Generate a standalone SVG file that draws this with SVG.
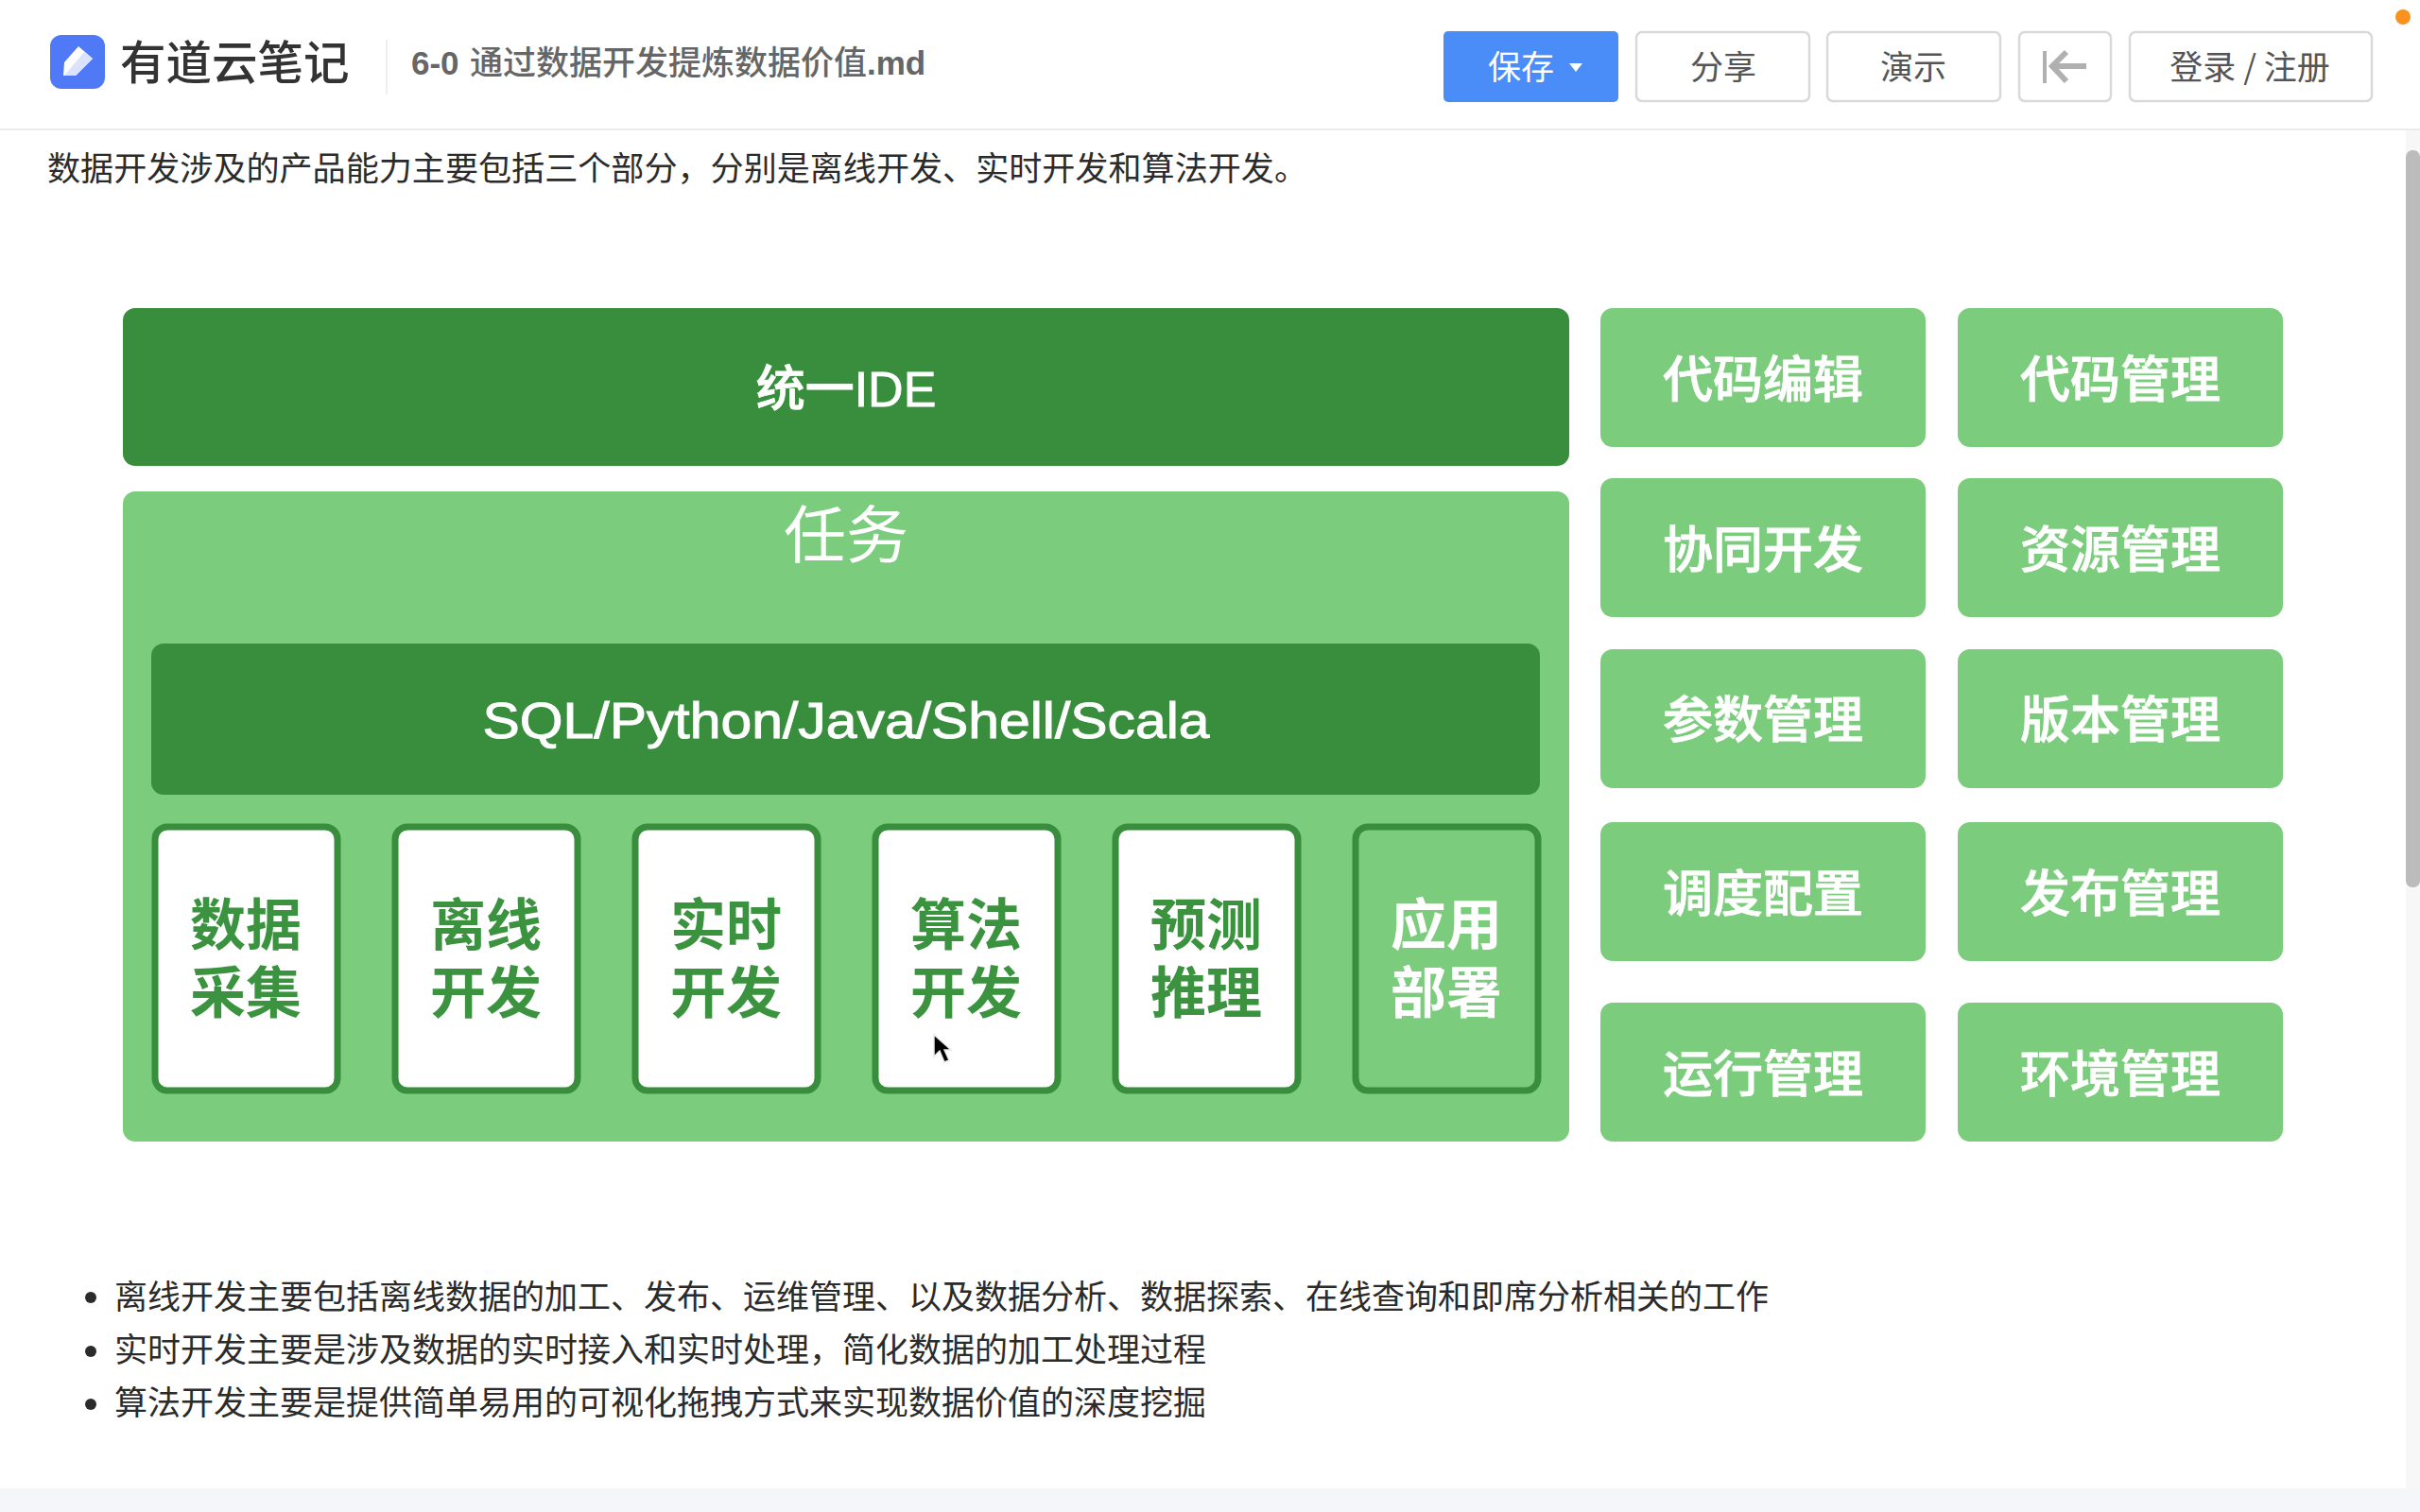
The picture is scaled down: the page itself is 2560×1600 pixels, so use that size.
<svg xmlns="http://www.w3.org/2000/svg" width="2560" height="1600" viewBox="0 0 2560 1600">
<style>
text{font-family:"Noto Sans CJK SC","Noto Sans",sans-serif;dominant-baseline:central}
text.mix{font-family:"Liberation Sans","Noto Sans CJK SC",sans-serif;dominant-baseline:auto}
.c{text-anchor:middle}
.dark{fill:#388e3c}
.light{fill:#7bcc7c}
.w{fill:#fff}
.tile{font-size:53px;font-weight:500;fill:#fff;stroke:#fff;stroke-width:.8;text-anchor:middle}
.card{fill:#fff;stroke:#388e3c;stroke-width:7}
.cardt{font-size:59px;font-weight:700;fill:#3b9340;text-anchor:middle}
.btn{fill:#fff;stroke:#d9d9d9;stroke-width:2.5}
.btnt{font-size:35px;fill:#555;text-anchor:middle}
.body{font-size:35px;fill:#2b2b2b}
</style>
<rect width="2560" height="1600" fill="#fff"/>
<g id="header">
<rect x="0" y="136" width="2560" height="2" fill="#ebebeb"/>
<rect x="53" y="37" width="58" height="57" rx="12" fill="#5079f6"/>
<path d="M83 49 L98 62 L80 80 L67 80 L68 66 Z" fill="#fff"/>
<path d="M89 55 L98 62 L80 80 L68 80 Z" fill="#dbe3fb"/>
<text x="127" y="63" font-size="48.5" font-weight="500" fill="#333">有道云笔记</text>
<rect x="408" y="42" width="2" height="58" fill="#eee"/>
<text class="mix" x="435" y="79" font-size="35" fill="#666"><tspan font-weight="700">6-0</tspan> <tspan x="497" font-weight="500">通过数据开发提炼数据价值</tspan><tspan font-weight="700">.md</tspan></text>
<rect x="1527" y="33" width="185" height="75" rx="5" fill="#4b8df8"/>
<text x="1609" y="68" class="btnt" style="fill:#fff">保存</text>
<path d="M1660 67 L1674 67 L1667 76 Z" fill="#fff"/>
<rect class="btn" x="1731" y="34" width="183" height="73" rx="6"/>
<text x="1823" y="68" class="btnt">分享</text>
<rect class="btn" x="1933" y="34" width="183" height="73" rx="6"/>
<text x="2024" y="68" class="btnt">演示</text>
<rect class="btn" x="2136" y="34" width="97" height="73" rx="6"/>
<path d="M2163 54 V88" stroke="#b0b0b0" stroke-width="4" fill="none"/>
<path d="M2207 70 H2172 M2186 55 L2171 70 L2186 86" stroke="#b0b0b0" stroke-width="6" fill="none"/>
<rect class="btn" x="2253" y="34" width="256" height="73" rx="6"/>
<text x="2380" y="68" class="btnt">登录 / 注册</text>
<circle cx="2542" cy="18" r="8" fill="#f7931e"/>
</g>
<rect x="2545" y="138" width="15" height="1437" fill="#f7f7f7"/>
<rect x="2545" y="159" width="15" height="780" rx="7" fill="#bcbcbc"/>
<text x="50" y="175" class="body" style="font-size:35.1px">数据开发涉及的产品能力主要包括三个部分，分别是离线开发、实时开发和算法开发。</text>
<g id="ide"><rect class="dark" x="130" y="326" width="1530" height="167" rx="13"/><text x="895" y="430" class="mix c w" font-size="52" font-weight="500" stroke="#fff" stroke-width=".8">统一IDE</text></g>
<g id="task"><rect class="light" x="130" y="520" width="1530" height="688" rx="13"/><text x="895" y="561" class="c w" font-size="66">任务</text></g>
<g id="languages"><rect class="dark" x="160" y="681" width="1469" height="160" rx="13"/><text x="895" y="781" class="mix c w" font-size="54" textLength="769" lengthAdjust="spacingAndGlyphs" stroke="#fff" stroke-width="1">SQL/Python/Java/Shell/Scala</text></g>
<g id="card1"><rect class="card" x="164" y="875" width="193" height="279" rx="13"/><text class="mix cardt" x="260" y="1000">数据<tspan x="260" dy="72">采集</tspan></text></g>
<g id="card2"><rect class="card" x="418" y="875" width="193" height="279" rx="13"/><text class="mix cardt" x="514" y="1000">离线<tspan x="514" dy="72">开发</tspan></text></g>
<g id="card3"><rect class="card" x="672" y="875" width="193" height="279" rx="13"/><text class="mix cardt" x="768" y="1000">实时<tspan x="768" dy="72">开发</tspan></text></g>
<g id="card4"><rect class="card" x="926" y="875" width="193" height="279" rx="13"/><text class="mix cardt" x="1022" y="1000">算法<tspan x="1022" dy="72">开发</tspan></text></g>
<g id="card5"><rect class="card" x="1180" y="875" width="193" height="279" rx="13"/><text class="mix cardt" x="1276" y="1000">预测<tspan x="1276" dy="72">推理</tspan></text></g>
<g id="card6"><rect class="card" style="fill:#7bcc7c" x="1434" y="875" width="193" height="279" rx="13"/><text class="mix cardt" style="fill:#fff" x="1530" y="1000">应用<tspan x="1530" dy="72">部署</tspan></text></g>
<g id="t1"><rect class="light" x="1693" y="326" width="344" height="147" rx="13"/><text class="tile" x="1865" y="398">代码编辑</text></g>
<g id="t2"><rect class="light" x="2071" y="326" width="344" height="147" rx="13"/><text class="tile" x="2243" y="398">代码管理</text></g>
<g id="t3"><rect class="light" x="1693" y="506" width="344" height="147" rx="13"/><text class="tile" x="1865" y="578">协同开发</text></g>
<g id="t4"><rect class="light" x="2071" y="506" width="344" height="147" rx="13"/><text class="tile" x="2243" y="578">资源管理</text></g>
<g id="t5"><rect class="light" x="1693" y="687" width="344" height="147" rx="13"/><text class="tile" x="1865" y="758">参数管理</text></g>
<g id="t6"><rect class="light" x="2071" y="687" width="344" height="147" rx="13"/><text class="tile" x="2243" y="758">版本管理</text></g>
<g id="t7"><rect class="light" x="1693" y="870" width="344" height="147" rx="13"/><text class="tile" x="1865" y="942">调度配置</text></g>
<g id="t8"><rect class="light" x="2071" y="870" width="344" height="147" rx="13"/><text class="tile" x="2243" y="942">发布管理</text></g>
<g id="t9"><rect class="light" x="1693" y="1061" width="344" height="147" rx="13"/><text class="tile" x="1865" y="1133">运行管理</text></g>
<g id="t10"><rect class="light" x="2071" y="1061" width="344" height="147" rx="13"/><text class="tile" x="2243" y="1133">环境管理</text></g>
<path d="M988 1095 V1118 L994 1112 L999 1124 L1004 1122 L999 1111 L1006 1111 Z" fill="#000" stroke="#e8e8e8" stroke-width="1.5"/>
<circle cx="96" cy="1373" r="6" fill="#2b2b2b"/><circle cx="96" cy="1430" r="6" fill="#2b2b2b"/><circle cx="96" cy="1486" r="6" fill="#2b2b2b"/>
<text x="121" y="1369" class="body">离线开发主要包括离线数据的加工、发布、运维管理、以及数据分析、数据探索、在线查询和即席分析相关的工作</text>
<text x="121" y="1425" class="body">实时开发主要是涉及数据的实时接入和实时处理，简化数据的加工处理过程</text>
<text x="121" y="1481" class="body">算法开发主要是提供简单易用的可视化拖拽方式来实现数据价值的深度挖掘</text>
<rect y="1575" width="2560" height="25" fill="#f5f6fa"/>
</svg>
